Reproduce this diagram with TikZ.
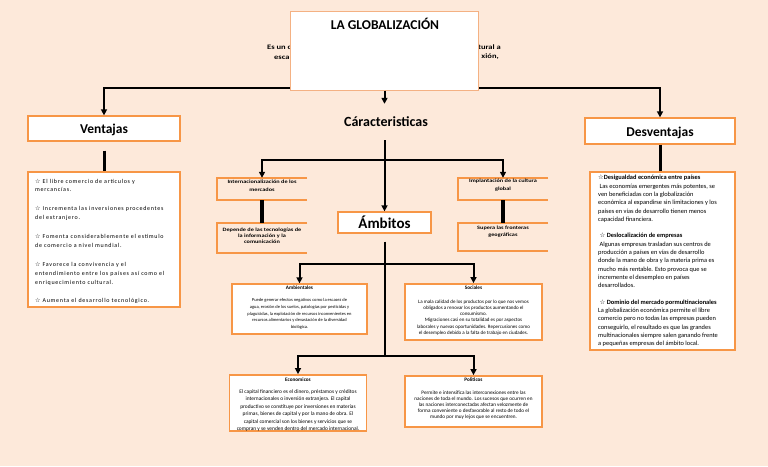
\documentclass[tikz,border=0pt]{standalone}
\usepackage{fontspec}
\setmainfont{Carlito}
\newfontfamily\symf{DejaVu Sans}
\newfontfamily\spacedf[LetterSpace=12]{Carlito}
\newfontfamily\widef[FakeStretch=1.25]{Carlito}
\usetikzlibrary{arrows.meta}
\definecolor{bgc}{HTML}{FDE9DA}
\definecolor{orgc}{HTML}{F79646}
\definecolor{lorgc}{HTML}{F4B183}
\newcommand{\wstar}{{\symf\char"2606}}
\newcommand{\fs}[2]{\fontsize{#1}{#2}\selectfont}
\begin{document}
\begin{tikzpicture}[x=1pt,y=-1pt,
  conn/.style={line width=2pt,draw=black},
  tip/.tip={Triangle[length=6pt,width=6pt]},
  arr/.style={conn,-tip},
  heavy/.style={line width=3.5pt,draw=black},
  box/.style={draw=orgc,fill=white,line width=1.3pt,inner sep=0pt},
  brk/.style={draw=orgc,line width=2pt},
  plain/.style={inner sep=0pt},
  intro/.style={plain,font=\widef\bfseries\fs{6.8}{7}},
  sized/.style 2 args={minimum width=#1pt,minimum height=#2pt}]
\fill[bgc] (0,0) rectangle (768,466);
\useasboundingbox (0,0) rectangle (768,466);

% partly hidden intro text
\node[intro,anchor=west] (introA) at (267,47) {Es un co};
\node[intro,anchor=east] (introB) at (501,47) {ultural a};
\node[intro,anchor=west] (introC) at (274,57) {escala};
\node[intro,anchor=east] (introD) at (499,57) {xión,};

% top level boxes
\node[box,sized={152}{25}] (vent) at (104,128.5) {};
\node[plain,font=\bfseries\fs{13.5}{15}] (ventT) at (104,130) {Ventajas};
\node[box,sized={150}{26}] (desv) at (660,131) {};
\node[plain,font=\bfseries\fs{13.5}{15}] (desvT) at (660,133) {Desventajas};

\coordinate (tr) at (660,88);
\draw[conn,tip-tip] (vent.north) |- (tr) -- (desv.north);

\node[draw=lorgc,fill=white,line width=1pt,inner sep=0pt,sized={188}{79}] (title) at (384.5,50.5) {};
\node[plain,font=\bfseries\fs{13.5}{15}] (titleT) at (385,24) {LA GLOBALIZACIÓN};

% caracteristicas
\node[plain,font=\bfseries\fs{14}{15},minimum height=36pt] (car) at (386,122) {Cáracteristicas};
\draw[arr] (title.south) -- (title.south |- car.north);

\node[plain,sized={90}{22}] (int) at (262,189) {};
\node[plain,sized={90}{29}] (dep) at (262,238) {};
\node[plain,sized={90}{22}] (imp) at (503,189) {};
\node[plain,sized={90}{27.5}] (sup) at (503,237.25) {};
\foreach \n in {int,dep,imp,sup}
  \draw[brk] (\n.north east) -- (\n.north west) -- (\n.south west) -- (\n.south east);
\node[plain,align=center,font=\widef\bfseries\fs{5}{8}] (intT) at (262,185.5) {Internacionalización de los\\mercados};
\node[plain,align=center,font=\widef\bfseries\fs{5}{6}] (depT) at (262,236) {Depende de las tecnologías de\\la información y la\\comunicación};
\node[plain,align=center,font=\widef\bfseries\fs{5}{8}] (impT) at (503,185.5) {Implantación de la cultura\\global};
\node[plain,align=center,font=\widef\bfseries\fs{5}{7}] (supT) at (503,231.5) {Supera las fronteras\\geográficas};
\draw[heavy] (int.south) -- (dep.north);
\draw[heavy] (imp.south) -- (sup.north);

\node[box,sized={93}{21},font=\bfseries\fs{15}{16}] (amb) at (384.5,222.5) {Ámbitos};

\coordinate (cj) at (384.5,160);
\draw[conn] (title.south |- car.south) -- (cj);
\draw[conn,tip-tip] (int.north) |- (cj) -| (imp.north);
\draw[arr] (cj) -- (amb.north);

% ambitos
\node[box,sized={135}{50}] (ambi) at (299.5,309) {};
\node[box,line width=1.8pt,sized={137}{56}] (soc) at (473.5,312) {};
\node[box,line width=1.8pt,sized={137}{56}] (eco) at (298,403) {};
\node[box,line width=1.8pt,sized={137}{51}] (pol) at (473.5,401.5) {};

\coordinate (aj1) at (384.5,264);
\coordinate (aj2) at (384.5,356);
\draw[conn,shorten <=8pt] (amb.south) -- (aj2);
\draw[conn,tip-tip] (ambi.north) |- (aj1) -| (soc.north);
\draw[conn,tip-tip] (eco.north) |- (aj2) -| (pol.north);

\node[plain,font=\bfseries\fs{5.2}{6}] (ambiT) at (299.5,288) {Ambientales};
\node[plain,anchor=north,align=center,font=\fs{4.5}{6.7}] (ambiB) at (299.5,298.5) {Puede generar efectos negativos como la escasez de\\agua, erosión de los suelos, patologías por pesticidas y\\plaguicidas, la explotación de recursos inconvenientes en\\recursos alimentarios y devastación de la diversidad\\biológica.};
\node[plain,font=\bfseries\fs{5.2}{6}] (socT) at (473.5,288) {Sociales};
\node[plain,anchor=north,align=center,font=\fs{5}{6.1}] (socB) at (473.5,300) {La mala calidad de los productos por lo que nos vemos\\obligados a renovar los productos aumentando el\\consumismo.\\Migraciones casi en su totalidad es por aspectos\\laborales y nuevas oportunidades. Repercusiones como\\el desempleo debido a la falta de trabajo en ciudades.};
\node[plain,font=\bfseries\fs{5.2}{6}] (ecoT) at (298,379.5) {Economicos};
\node[plain,anchor=north,align=center,font=\fs{5.4}{7.4}] (ecoB) at (298,389.5) {El capital financiero es el dinero, préstamos y créditos\\internacionales o inversión extranjera. El capital\\productivo se constituye por inversiones en materias\\primas, bienes de capital y por la mano de obra. El\\capital comercial son los bienes y servicios que se\\compran y se venden dentro del mercado internacional.};
\node[plain,font=\bfseries\fs{5.2}{6}] (polT) at (473.5,380) {Politicos};
\node[plain,anchor=north,align=center,font=\fs{5.2}{6.1}] (polB) at (473.5,390.5) {Permite e intensifica las interconexiones entre las\\naciones de toda el mundo. Los sucesos que ocurren en\\las naciones interconectadas afectan velozmente de\\forma conveniente o desfavorable al resto de todo el\\mundo por muy lejos que se encuentren.};

% lists
\node[box,sized={152}{135}] (vlist) at (104,239.5) {};
\draw[line width=3pt,shorten <=9pt] (vent.south) -- (vlist.north);
\node[plain,anchor=north west,align=left,font=\spacedf\fs{6}{8.8}] (vtext) at (35,178.5) {\wstar\ El libre comercio de artículos y\\mercancías.\\[10pt]
\wstar\ Incrementa las inversiones procedentes\\del extranjero.\\[10pt]
\wstar\ Fomenta considerablemente el estímulo\\de comercio a nivel mundial.\\[11pt]
\wstar\ Favorece la convivencia y el\\entendimiento entre los países así como el\\enriquecimiento cultural.\\[9pt]
\wstar\ Aumenta el desarrollo tecnológico.};

\node[box,sized={145}{178}] (dlist) at (662.5,261) {};
\draw[line width=3pt] (desv.south) -- (desv.south |- dlist.north);
\node[plain,anchor=north west,align=left,font=\fs{6.4}{8.3}] (dtext) at (598,175) {\wstar\textbf{Desigualdad económica entre países}\\
\ Las economías emergentes más potentes, se\\ven beneficiadas con la globalización\\económica al expandirse sin limitaciones y los\\países en vías de desarrollo tienen menos\\capacidad financiera.\\[8.3pt]
\ \wstar\ \textbf{Deslocalización de empresas}\\
\ Algunas empresas trasladan sus centros de\\producción a países en vías de desarrollo\\donde la mano de obra y la materia prima es\\mucho más rentable. Esto provoca que se\\incremente el desempleo en países\\desarrollados.\\[8.3pt]
\ \wstar\ \textbf{Dominio del mercado pormultinacionales}\\
La globalización económica permite el libre\\comercio pero no todas las empresas pueden\\conseguirlo, el resultado es que las grandes\\multinacionales siempre salen ganando frente\\a pequeñas empresas del ámbito local.};
\end{tikzpicture}
\end{document}
